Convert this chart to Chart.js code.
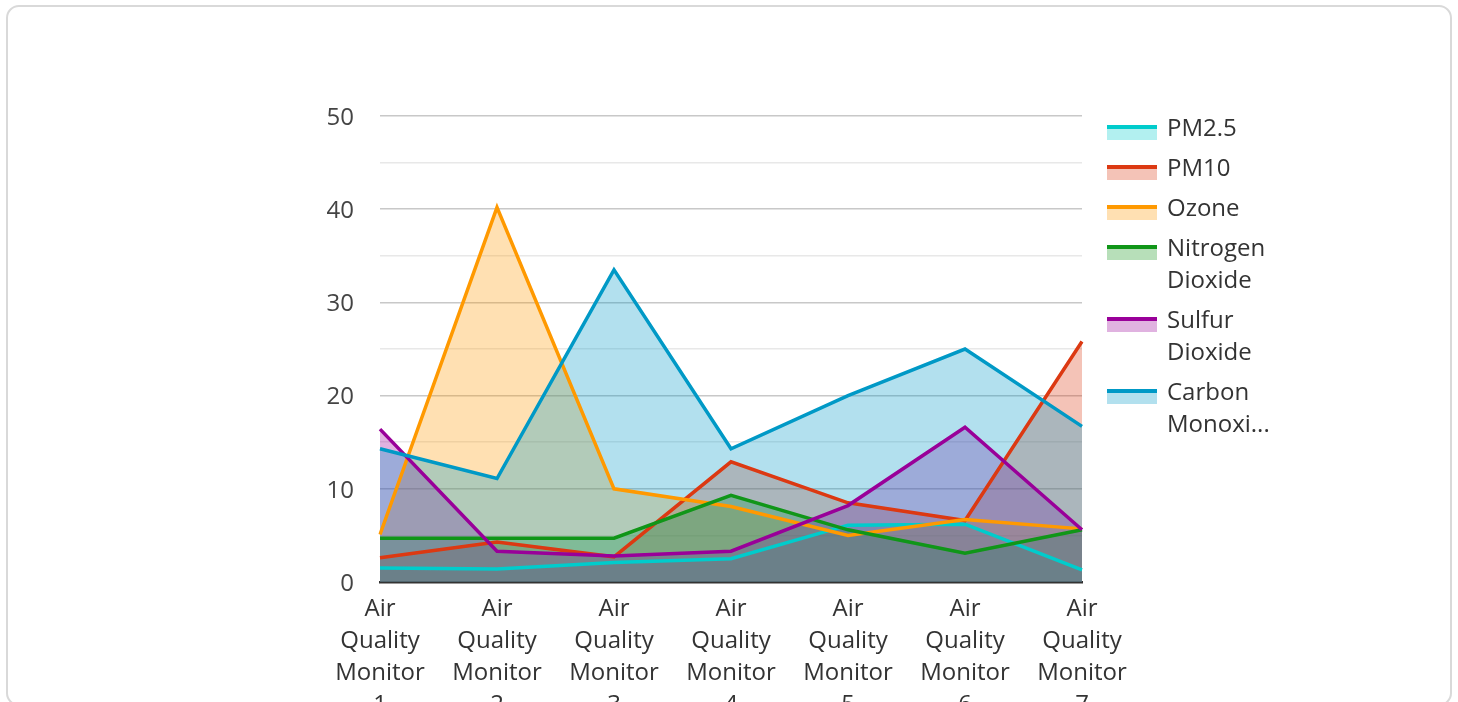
<!DOCTYPE html>
<html>
<head>
<meta charset="utf-8">
<script src="https://cdn.jsdelivr.net/npm/chart.js@4.4.1/dist/chart.umd.min.js"></script>
<style>
  html, body { margin: 0; padding: 0; background: #ffffff; overflow: hidden; }
  body { width: 1458px; height: 702px; position: relative; font-family: "Open Sans", "Noto Sans", sans-serif; }
  #card { position: absolute; left: 6px; top: 5px; width: 1446px; height: 701px; box-sizing: border-box;
          border: 2px solid #d9d9d9; border-radius: 13px; }
  #wrap { position: absolute; left: 8px; top: 7px; width: 1442px; height: 800px; }
  #legend { position: absolute; left: 1107px; top: 111px; width: 200px; }
  .item { position: relative; margin-bottom: 8px; }
  .sw { position: absolute; left: 0; top: 14px; width: 50px; height: 15px; box-sizing: border-box; border-top: 4px solid; }
  .txt { margin-left: 60px; font-size: 24px; line-height: 32px; color: #333333; white-space: nowrap; }
</style>
</head>
<body>
<div id="card"></div>
<div id="wrap"><canvas id="c"></canvas></div>
<div id="legend"></div>
<script>
const categories = ['Air Quality Monitor 1','Air Quality Monitor 2','Air Quality Monitor 3','Air Quality Monitor 4','Air Quality Monitor 5','Air Quality Monitor 6','Air Quality Monitor 7'];
const seriesNames = ['PM2.5','PM10','Ozone','Nitrogen Dioxide','Sulfur Dioxide','Carbon Monoxide'];
const pm25 = [1.5, 1.4, 2.1, 2.5, 6.1, 6.2, 1.3];
const pm10 = [2.6, 4.3, 2.7, 12.9, 8.5, 6.6, 25.8];
const ozone = [5.1, 40.2, 10.0, 8.1, 5.0, 6.7, 5.7];
const no2 = [4.7, 4.7, 4.7, 9.3, 5.6, 3.1, 5.6];
const so2 = [16.4, 3.3, 2.8, 3.3, 8.2, 16.6, 5.6];
const co = [14.3, 11.1, 33.5, 14.3, 20.0, 25.0, 16.7];
const yTicks = [0, 10, 20, 30, 40, 50];

const colors = ['#00cccc','#dc3912','#ff9900','#109618','#990099','#0099c6'];
function rgba(hex, a) {
  const r = parseInt(hex.slice(1,3),16), g = parseInt(hex.slice(3,5),16), b = parseInt(hex.slice(5,7),16);
  return `rgba(${r},${g},${b},${a})`;
}
const values = [pm25, pm10, ozone, no2, so2, co];
const FONT = '"Open Sans", "Noto Sans", sans-serif';

const datasets = seriesNames.map((n, i) => ({
  label: n,
  data: values[i],
  order: seriesNames.length - 1 - i,
  borderColor: colors[i],
  backgroundColor: rgba(colors[i], 0.3),
  borderWidth: 3.5,
  pointRadius: 0,
  pointHoverRadius: 0,
  tension: 0,
  fill: 'origin'
}));

const canvas = document.getElementById('c');
canvas.width = 1442; canvas.height = 800;
new Chart(canvas, {
  type: 'line',
  data: { labels: categories.map(c => c.split(' ')), datasets },
  options: {
    responsive: false,
    animation: false,
    devicePixelRatio: 1,
    layout: { padding: { left: 272, right: 368, top: 109, bottom: 25 } },
    plugins: {
      legend: { display: false },
      tooltip: { enabled: false },
      filler: { drawTime: 'beforeDatasetsDraw' }
    },
    scales: {
      x: {
        offset: false,
        grid: { display: false, drawTicks: false },
        border: { display: true, color: '#333333', width: 2.5 },
        ticks: { color: '#333333', font: { family: FONT, size: 24, lineHeight: 1.333 }, padding: 11, maxRotation: 0, autoSkip: false },
        afterFit(s) { s.height = 200; }
      },
      y: {
        min: 0, max: 50,
        grid: {
          drawTicks: false,
          color: (ctx) => (ctx.tick && yTicks.includes(ctx.tick.value)) ? '#c8c8c8' : '#e8e8e8',
          lineWidth: 1.5
        },
        border: { display: false },
        ticks: {
          stepSize: 5,
          color: '#444444',
          font: { family: FONT, size: 24 },
          padding: 26,
          labelOffset: 2,
          callback: (v) => yTicks.includes(v) ? String(v) : ''
        },
        afterFit(s) { s.width = 100; }
      }
    }
  }
});

// HTML legend with wrapping/truncation
const mctx = document.createElement('canvas').getContext('2d');
mctx.font = '24px ' + FONT;
const MAXW = 108;
function wrap(text) {
  const words = text.split(' ');
  const lines = [];
  let cur = '';
  for (const w of words) {
    const t = cur ? cur + ' ' + w : w;
    if (mctx.measureText(t).width <= MAXW) cur = t;
    else { if (cur) lines.push(cur); cur = w; }
  }
  if (cur) lines.push(cur);
  let out = lines.slice(0, 2);
  out = out.map(l => {
    if (mctx.measureText(l).width <= MAXW) return l;
    let s = l;
    while (s.length > 1 && mctx.measureText(s + '...').width > MAXW) s = s.slice(0, -1);
    return s + '...';
  });
  return out;
}
const leg = document.getElementById('legend');
seriesNames.forEach((n, i) => {
  const it = document.createElement('div'); it.className = 'item';
  const sw = document.createElement('div'); sw.className = 'sw';
  sw.style.borderTopColor = colors[i]; sw.style.background = rgba(colors[i], 0.3);
  const tx = document.createElement('div'); tx.className = 'txt';
  tx.innerHTML = wrap(n).join('<br>');
  it.appendChild(sw); it.appendChild(tx); leg.appendChild(it);
});
</script>
</body>
</html>
